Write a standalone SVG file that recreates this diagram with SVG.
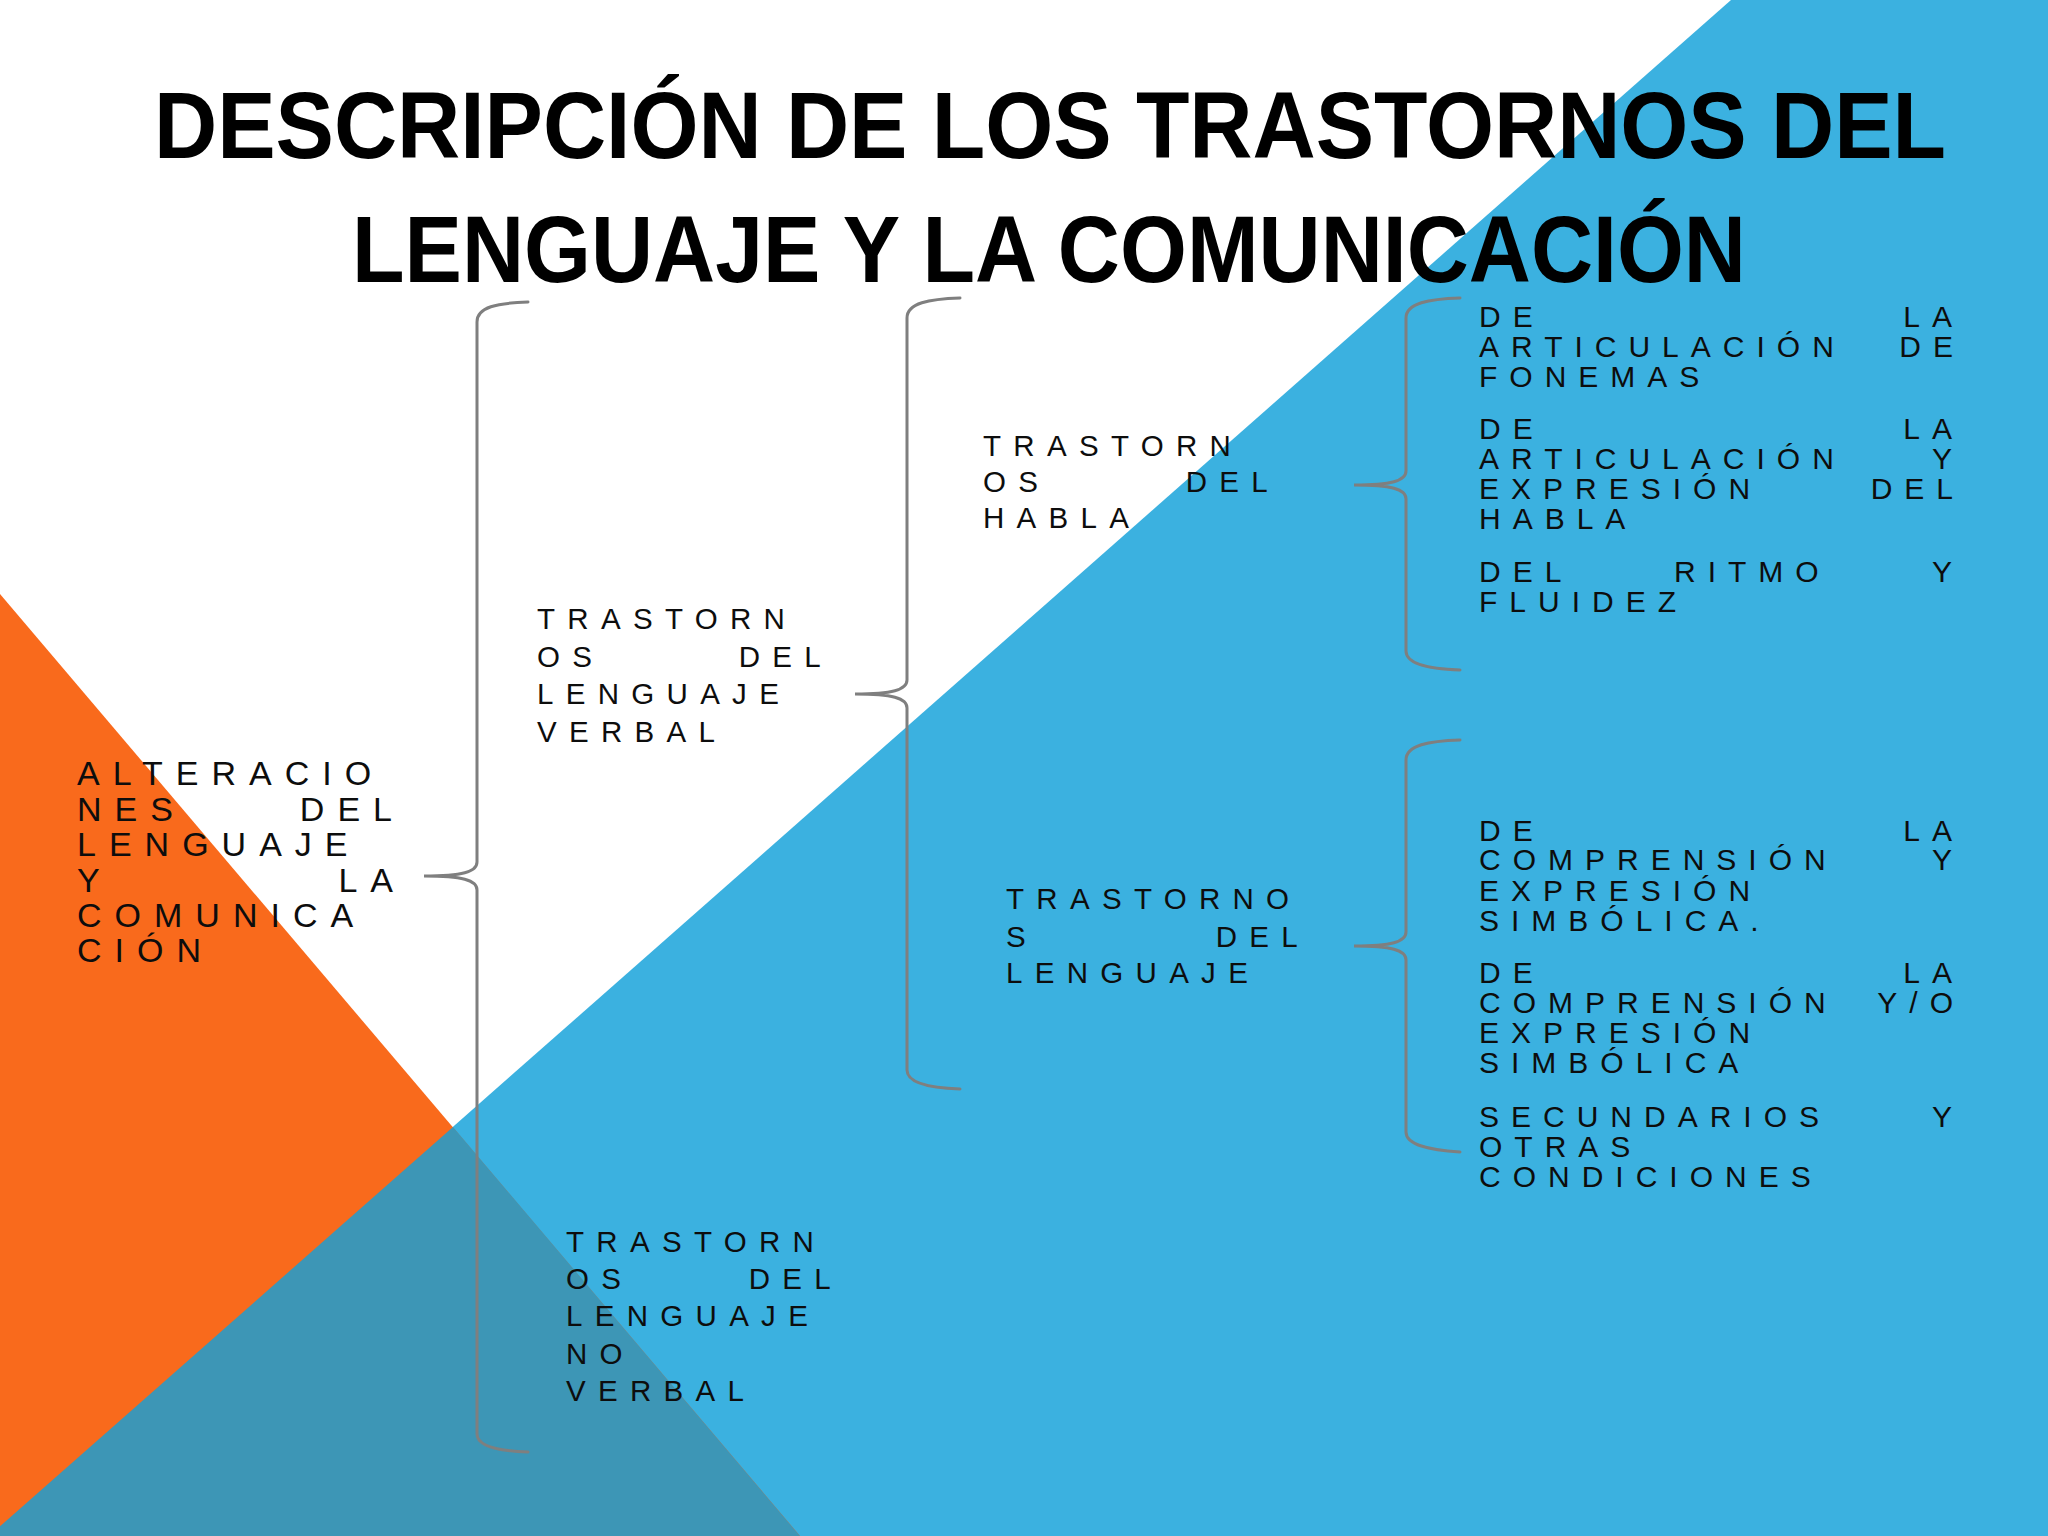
<svg xmlns="http://www.w3.org/2000/svg" width="2048" height="1536" viewBox="0 0 2048 1536">
<style>
text{font-family:"Liberation Sans",Arial,sans-serif;fill:#0d0d0d}
.t{font-weight:bold;font-size:87px;fill:#000}
.a{font-size:34px;letter-spacing:13px}
.m{font-size:29.5px;letter-spacing:12.3px}
.r{font-size:30px;letter-spacing:12px}
.e{text-anchor:end}
.br{fill:none;stroke:#7f7f7f;stroke-width:3;stroke-linecap:round}
</style>
<rect width="2048" height="1536" fill="#ffffff"/>
<g id="background">
<polygon points="1731,0 2048,0 2048,1536 -11,1536" fill="#3bb1e0"/>
<polygon points="0,594 800,1536 0,1536" fill="#f96a1c"/>
<polygon points="453,1127 800,1536 -11,1536" fill="#3d96b6"/>
</g>
<g id="title">
<text class="t" transform="translate(154,158) scale(1,1.09)" x="0" y="0" textLength="1792" lengthAdjust="spacingAndGlyphs">DESCRIPCIÓN DE LOS TRASTORNOS DEL</text>
<text class="t" transform="translate(352,282) scale(1,1.09)" x="0" y="0" textLength="1394" lengthAdjust="spacingAndGlyphs">LENGUAJE Y LA COMUNICACIÓN</text>
</g>
<g id="connectors">
<path class="br" d="M528,302 C497,303 477,307 477,322 L477,862 C477,872 462,876 424,876 C462,876 477,880 477,890 L477,1434 C477,1446 497,1451 528,1452"/>
<path class="br" d="M960,298 C929,299 907,303 907,318 L907,680 C907,690 892,694 855,694 C892,694 907,698 907,708 L907,1070 C907,1083 929,1088 960,1089"/>
<path class="br" d="M1460,298 C1429,299 1406,303 1406,318 L1406,471 C1406,481 1391,485 1354,485 C1391,485 1406,489 1406,499 L1406,651 C1406,664 1429,669 1460,670"/>
<path class="br" d="M1460,740 C1429,741 1406,745 1406,760 L1406,932 C1406,942 1391,946 1354,946 C1391,946 1406,950 1406,960 L1406,1132 C1406,1145 1429,1150 1460,1152"/>
</g>
<g id="node-alteraciones">
<text class="a" x="77" y="785">ALTERACIO</text>
<text class="a" x="77" y="820.7">NES</text><text class="a e" x="405" y="820.7">DEL</text>
<text class="a" x="77" y="855.7">LENGUAJE</text>
<text class="a" x="77" y="891.7">Y</text><text class="a e" x="406" y="891.7">LA</text>
<text class="a" x="77" y="926.7">COMUNICA</text>
<text class="a" x="77" y="962.3">CIÓN</text>
</g>
<g id="node-verbal">
<text class="m" x="537" y="629.3">TRASTORN</text>
<text class="m" x="537" y="666.7">OS</text><text class="m e" x="833" y="666.7">DEL</text>
<text class="m" x="537" y="704">LENGUAJE</text>
<text class="m" x="537" y="741.7">VERBAL</text>
</g>
<g id="node-no-verbal">
<text class="m" x="566" y="1251.7">TRASTORN</text>
<text class="m" x="566" y="1289">OS</text><text class="m e" x="843" y="1289">DEL</text>
<text class="m" x="566" y="1326.3">LENGUAJE</text>
<text class="m" x="566" y="1363.7">NO</text>
<text class="m" x="566" y="1401">VERBAL</text>
</g>
<g id="node-habla">
<text class="m" x="983" y="455.7">TRASTORN</text>
<text class="m" x="983" y="492.3">OS</text><text class="m e" x="1280" y="492.3">DEL</text>
<text class="m" x="983" y="528.3">HABLA</text>
</g>
<g id="node-lenguaje">
<text class="m" x="1006" y="909.3">TRASTORNO</text>
<text class="m" x="1006" y="946.7">S</text><text class="m e" x="1310" y="946.7">DEL</text>
<text class="m" x="1006" y="983.3">LENGUAJE</text>
</g>
<g id="node-fonemas">
<text class="r" x="1479" y="326.7">DE</text><text class="r e" x="1964" y="326.7">LA</text>
<text class="r" x="1479" y="356.7">ARTICULACIÓN</text><text class="r e" x="1965" y="356.7">DE</text>
<text class="r" x="1479" y="386.7">FONEMAS</text>
</g>
<g id="node-expresion-habla">
<text class="r" x="1479" y="439">DE</text><text class="r e" x="1964" y="439">LA</text>
<text class="r" x="1479" y="469">ARTICULACIÓN</text><text class="r e" x="1964" y="469">Y</text>
<text class="r" x="1479" y="499">EXPRESIÓN</text><text class="r e" x="1965" y="499">DEL</text>
<text class="r" x="1479" y="529">HABLA</text>
</g>
<g id="node-ritmo">
<text class="r" x="1479" y="581.7">DEL</text><text class="r" x="1674" y="581.7">RITMO</text><text class="r e" x="1964" y="581.7">Y</text>
<text class="r" x="1479" y="611.7">FLUIDEZ</text>
</g>
<g id="node-comprension-y">
<text class="r" x="1479" y="840.7">DE</text><text class="r e" x="1964" y="840.7">LA</text>
<text class="r" x="1479" y="870">COMPRENSIÓN</text><text class="r e" x="1964" y="870">Y</text>
<text class="r" x="1479" y="900.7">EXPRESIÓN</text>
<text class="r" x="1479" y="931">SIMBÓLICA.</text>
</g>
<g id="node-comprension-yo">
<text class="r" x="1479" y="982.7">DE</text><text class="r e" x="1964" y="982.7">LA</text>
<text class="r" x="1479" y="1013.3">COMPRENSIÓN</text><text class="r e" x="1965" y="1013.3">Y/O</text>
<text class="r" x="1479" y="1043.3">EXPRESIÓN</text>
<text class="r" x="1479" y="1073.3">SIMBÓLICA</text>
</g>
<g id="node-secundarios">
<text class="r" x="1479" y="1126.7">SECUNDARIOS</text><text class="r e" x="1964" y="1126.7">Y</text>
<text class="r" x="1479" y="1156.7">OTRAS</text>
<text class="r" x="1479" y="1186.7">CONDICIONES</text>
</g>
</svg>
